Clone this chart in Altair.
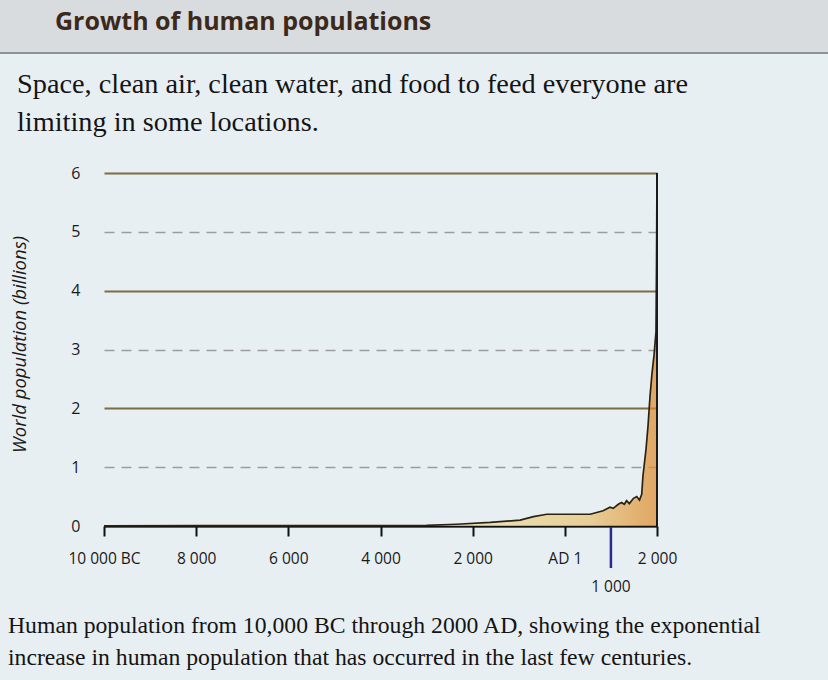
import altair as alt
import pandas as pd

# ---- data ----
years = [-10000, -8000, -6000, -4000, -3000, -2350, -1620, -970, -680, -390, 40, 550,
         830, 980, 1050, 1160, 1230, 1290, 1340, 1400, 1490, 1560, 1620, 1668,
         1695, 1761, 1805, 1848, 1892, 1935, 1978, 1990, 2000]
population = [0.004, 0.005, 0.006, 0.007, 0.012, 0.03, 0.06, 0.10, 0.16, 0.20, 0.20, 0.20,
              0.26, 0.32, 0.30, 0.37, 0.40, 0.37, 0.43, 0.38, 0.47, 0.50, 0.44, 0.54,
              0.85, 1.3, 1.7, 2.2, 2.6, 2.9, 3.3, 4.5, 6.0]

tick_values = [-10000, -8000, -6000, -4000, -2000, 0, 2000]
tick_labels = ["10 000 BC", "8 000", "6 000", "4 000", "2 000", "AD 1", "2 000"]
y_ticks = [0, 1, 2, 3, 4, 5, 6]

title_text = "Growth of human populations"
intro_lines = ["Space, clean air, clean water, and food to feed everyone are",
               "limiting in some locations."]
caption_lines = ["Human population from 10,000 BC through 2000 AD, showing the exponential",
                 "increase in human population that has occurred in the last few centuries."]
y_title = "World population (billions)"

W, H = 553, 353
PL, PT = 104, 173

df = pd.DataFrame({"year": years, "pop": population})
one = pd.DataFrame({"k": [0]})

label_expr = " : ".join(
    [f"datum.value == {v} ? '{l}'" for v, l in zip(tick_values, tick_labels)]
) + " : ''"

xscale = alt.Scale(domain=[-10000, 2000], nice=False, zero=False)
yscale = alt.Scale(domain=[0, 6], nice=False)

x_axis = alt.Axis(
    values=tick_values, labelExpr=label_expr, grid=False,
    domainColor="#111", domainWidth=2, tickColor="#111", tickWidth=2, tickSize=10,
    labelFont="Open Sans", labelFontSize=15.5, labelColor="#1a1a1a", labelPadding=15,
    labelFlush=False, labelOverlap=False, title=None,
)
y_axis = alt.Axis(
    values=y_ticks, format="d", domain=False, ticks=False, labelPadding=24,
    labelFont="Open Sans", labelFontSize=16, labelColor="#1a1a1a",
    grid=True,
    gridColor={"condition": {"test": "datum.value % 2 === 0", "value": "#7d6c45"}, "value": "#9c9c9c"},
    gridDash={"condition": {"test": "datum.value % 2 === 0", "value": []}, "value": [10, 7]},
    gridWidth={"condition": {"test": "datum.value % 2 === 0", "value": 1.8}, "value": 1.6},
    title=y_title, titleFont="Open Sans", titleFontStyle="italic", titleFontWeight="normal",
    titleFontSize=18.5, titleColor="#1a1a1a", titleX=-75, titleY=171,
)

gradient = alt.Gradient(
    gradient="linear",
    stops=[alt.GradientStop(color="#f4ecd2", offset=0),
           alt.GradientStop(color="#ecd693", offset=0.72),
           alt.GradientStop(color="#e7bf6c", offset=0.88),
           alt.GradientStop(color="#dd8626", offset=1)],
    x1=0, x2=1, y1=0, y2=0,
)

area = alt.Chart(df).mark_area(
    color=gradient, line={"color": "#2a2312", "strokeWidth": 1.7}
).encode(
    x=alt.X("year:Q", scale=xscale, axis=x_axis),
    y=alt.Y("pop:Q", scale=yscale, axis=y_axis),
)

header = alt.Chart(one).mark_rect(color="#d9dcde").encode(
    x=alt.value(-PL), x2=alt.value(828 - PL), y=alt.value(-PT), y2=alt.value(52 - PT)
)
header_line = alt.Chart(one).mark_rule(color="#8e9396", strokeWidth=2).encode(
    x=alt.value(-PL), x2=alt.value(828 - PL), y=alt.value(53 - PT)
)

border = alt.Chart(pd.DataFrame({"year": [2000], "lo": [0], "hi": [6]})).mark_rule(
    color="#1a1a1a", strokeWidth=2
).encode(x=alt.X("year:Q", scale=xscale), y=alt.Y("lo:Q", scale=yscale), y2="hi:Q")

mark1000 = alt.Chart(pd.DataFrame({"year": [1000]})).mark_rule(
    color="#2b2a8c", strokeWidth=2.5
).encode(x=alt.X("year:Q", scale=xscale), y=alt.value(H + 1), y2=alt.value(H + 42))
mark1000_label = alt.Chart(pd.DataFrame({"year": [1000], "t": ["1 000"]})).mark_text(
    font="Open Sans", fontSize=15.5, color="#1a1a1a", baseline="middle"
).encode(x=alt.X("year:Q", scale=xscale), y=alt.value(H + 61), text="t:N")

title = alt.Chart(one).mark_text(
    text=title_text, font="Open Sans", fontSize=25, fontWeight="bold", color="#3b2a1c",
    align="left", baseline="middle"
).encode(x=alt.value(55 - PL), y=alt.value(22 - PT))


def text_line(txt, x, y, size):
    return alt.Chart(pd.DataFrame({"t": [txt]})).mark_text(
        font="Liberation Serif", fontSize=size, color="#141414",
        align="left", baseline="alphabetic"
    ).encode(x=alt.value(x - PL), y=alt.value(y - PT), text="t:N")


intro1 = text_line(intro_lines[0], 17, 93, 28.3)
intro2 = text_line(intro_lines[1], 17, 131, 28.3)
cap1 = text_line(caption_lines[0], 8, 633, 23.7)
cap2 = text_line(caption_lines[1], 8, 665, 23.7)

chart = alt.layer(
    header, header_line, area, border, mark1000, mark1000_label, title,
    intro1, intro2, cap1, cap2
).properties(
    width=W, height=H,
    padding={"left": PL, "top": PT, "right": 828 - PL - W, "bottom": 680 - PT - H},
    autosize=alt.AutoSizeParams(type="none"),
    background="#e8eff3",
).configure_view(stroke=None)

chart.save("out.html", embed_options={"renderer": "svg", "actions": False})
